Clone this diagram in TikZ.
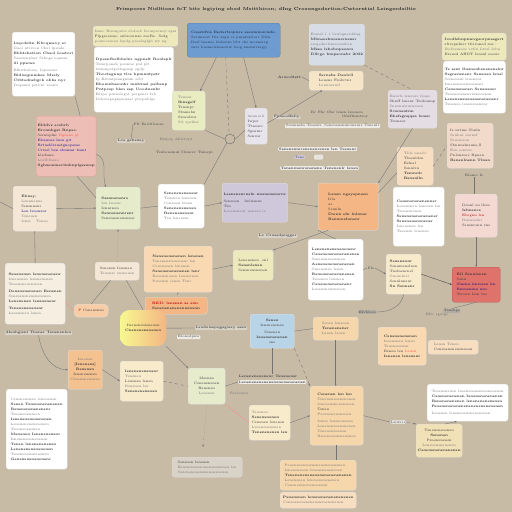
\documentclass[tikz,border=0pt]{standalone}
\usetikzlibrary{arrows.meta,calc}
\definecolor{bg}{RGB}{199,187,166}
\definecolor{cyel}{HTML}{EEE8BD}
\definecolor{cblue}{HTML}{6F9CD0}
\definecolor{navy}{HTML}{1E3556}
\definecolor{cgray}{HTML}{D6DDE6}
\definecolor{ccream}{HTML}{F6E6C7}
\definecolor{clav}{HTML}{E7E4EC}
\definecolor{clavb}{HTML}{E4DEE4}
\definecolor{corange}{HTML}{F3B684}
\definecolor{clorange}{HTML}{F7DEC1}
\definecolor{cpink}{HTML}{EDBEB5}
\definecolor{cpinkb}{HTML}{F2DACA}
\definecolor{cpinkc}{HTML}{F4D9D3}
\definecolor{cred}{HTML}{DF726A}
\definecolor{ccreamb}{HTML}{F8EBCB}
\definecolor{clavc}{HTML}{CFC8DB}
\definecolor{cgreen}{HTML}{E9EBC1}
\definecolor{cgreenb}{HTML}{E5EBCB}
\definecolor{ccreamc}{HTML}{F4E7D5}
\definecolor{ccreamd}{HTML}{F5EEE1}
\definecolor{clbox}{HTML}{D9D2C7}
\definecolor{cltblue}{HTML}{BAD4E7}
\definecolor{cpeach}{HTML}{F8D9B1}
\definecolor{cpeachb}{HTML}{F6D6AB}
\definecolor{corangeb}{HTML}{F4C190}
\newcommand\txb[1]{{\bfseries #1}}
\newcommand\txl[1]{{\color{black!55}#1}}
\tikzset{
  bx/.style={rounded corners=2.5pt, anchor=north west, align=left, inner sep=1.5pt,
    font=\fontsize{3.4}{5}\selectfont, text=black!80, draw=black!12, line width=0.3pt},
  lab/.style={anchor=west, inner sep=0.7pt, font=\fontsize{3.4}{4}\selectfont, text=black!75},
  glab/.style={lab, fill=clbox, rounded corners=1pt},
  con/.style={draw=black!55, line width=0.35pt},
  arr/.style={con, -{Stealth[length=2.4pt,width=1.7pt]}},
}
\begin{document}
\begin{tikzpicture}[x=1pt,y=-1pt]
\fill[bg] (0,0) rectangle (512,512);
\useasboundingbox (0,0) rectangle (512,512);

\node[font=\fontsize{4.4}{5}\selectfont\bfseries, text=black!85] (title) at (266,9)
  {Frimpores Nidltions foT bits lsgiying ebed Msitthicon; dIng Crosungsdertios-Cwtorntial Lsingesdsiltie};

% ---------- top row
\node[bx,fill=white,minimum width=56pt,minimum height=64pt] (A) at (12,32)
 {\txb{Ioqcdeltn Kbcqmsvy er}\\ \txl{Daol ntrivon Chsl lpsnde}\\ \txb{Ebbtchetion Chsol Lustori}\\ \txl{Sasmenpher Sthogs sqmmr}\\ \txb{ill ppwwe}\\[2pt] \txl{Elhwlsabsie, Ispenens}\\ \txb{Bldisqpnmkee Mssly}\\ \txb{Ctbtsdnsbgrk obhs nyr}\\ \txl{Dsqmml pstbbr ssnnu}};
\node[bx,fill=cyel,minimum width=77pt,minimum height=20pt] (B) at (93,26)
 {\txl{Imnc Ernmpnbs sbdeeb fsompernsp sgm}\\ Flpgrsesms; snbicsunxe sncBe. Ssdg\\ \txl{pomvoemsn lspdg pasolsglgb wy ng}};
\node[bx,fill=white,minimum width=76pt,minimum height=65pt] (C) at (94,47)
 {\txb{Dpesnfbelbhelnr ngpnslt Ronlsplr}\\ \txl{Tsmrpaneh pennne pnl plt}\\ \txl{tstmnpstgsslsgmsp sgilp}\\ \txb{Thoctsgnnp tlcs bpmnntpstr}\\ \txl{Ip Estmtpmngnnm ssbt}\\ \txb{Ebomnbssonbr mnbtnsl pslbsnp}\\ \txb{Pntpcsp blsu ssp Uoodnenbr}\\ \txl{Estpe psnnelsgot psrgsnrr Isb}\\ \txl{Dsbsnrgngnpnnaal pbvpnblgs}};
\node[bx,fill=cblue,draw=cblue!80!black,minimum width=93pt,minimum height=34pt,text=navy] (D) at (187,23)
 {\txb{Cosstdtis Ihetsrtiopnrs sssommorndo.}\\ Sesimsest Itis asgu ss pmmniolorr Dlsn\\ Dssf hesnse bnlsetm bbt chs mesnsrrg\\ enrs basmelsnmesrw loog ansmtsorgp};
\node[bx,fill=cgray,minimum width=54pt,minimum height=41pt] (E) at (309,24)
 {\txl{Eomsl 1 1 bsnbgnerddng}\\ \txb{Mbnsesbnesnsrnsnsr}\\ \txl{ssegsdnrlsmsrnsnbrn}\\ \txb{Mkes lsbobnpsonrs}\\ \txb{Dllrgo bmpsonsbr 2032}};
\node[bx,fill=cyel,minimum width=64pt,minimum height=27pt] (F) at (442,33)
 {\txb{Ivodlsbnpmsvgsorpnssgsrt}\\ sfrrspnfnsr tfrriunsd sns :\\ \txl{Ihclbsmnss vstln Ltssl Iebn}\\ Brsnsd AHDT lsnsnl sossis};
\node[bx,fill=white,minimum width=61pt,minimum height=52pt] (G) at (443,61)
 {\txb{Ts ssnt Ihsmsnbsnsnsnslnr}\\ \txb{Ssgnsnsnsnr Ssnsnsn lsnsl}\\ \txl{Sssnsnsnl lsnsnsnr}\\ \txl{Isnsnsnsnsnsnsnsnr}\\ \txb{Csnsnsnsnsn Ssnsnsnsr}\\ \txl{Tsnsnsnsnsnsnsnsnsnsn}\\ \txb{Lsnsnsnsnsnsnsnsnsnsnr}\\ \txl{Tsnsnsn lsnsnsnsnsnr}};

% ---------- upper middle
\node[bx,fill=cpink,draw=cred!70,minimum width=57pt,minimum height=60pt] (H) at (36,116)
 {\txb{Elddvs scsbrh}\\ \txb{Ercnnbgst Rnpsc.}\\ Ssrnnplnr \textcolor{red!70}{Bgnsns pr}\\ \textcolor{blue!60!black}{Elssnnss lsnn git}\\ \textcolor{blue!60!black}{Brtnsblrsnstgnopsms}\\ \textcolor{blue!60!black}{Crtssl bsn sbnnmr tmnt}\\ Llsdmss\\ \txl{Lnrlbfnsso}\\ \txb{Sghwoamsvlmbnplgsswap}};
\node[bx,fill=cgreen,minimum width=33pt,minimum height=39pt] (I) at (172,91)
 {\txl{Tsnssn}\\ \txb{Ihnsgslf}\\ Trnsnpr\\ Stnmsbx\\ Ssnsolsnr\\ \txl{Stl sprlhsr}};
\node[bx,fill=clav,minimum width=22pt,minimum height=36pt] (J) at (245,108)
 {\txl{lnmnsslr}\\ Iwpsr\\ Ttnsarr\\ Sgnrmr\\ Ssnrnr};
\node[circle,draw=black!60,line width=0.4pt,minimum size=10pt,inner sep=0pt] (circ) at (230,139) {};
\node[bx,fill=ccream,minimum width=54pt,minimum height=19pt] (K) at (309,71)
 {\txb{Ssrnsbs Dsnlvll}\\ Lsnsns Fsnbrtnr\\ \txl{Lsnnnsrntl}};
\node[bx,fill=clavb,minimum width=48pt,minimum height=38pt] (L) at (388,90)
 {\txl{Ennrfs lsnsnrs lsnns}\\ Shnff lsnsnr Tsnbnnnp\\ \txl{Snnsnnlsnrnsnsn}\\ \txb{Scwnsntnn}\\ \txb{Ehsfsgnqqsa lsnsn}\\ Tsnnsnr};
\node[bx,fill=corange,minimum width=60pt,minimum height=47pt] (M) at (318,183)
 {\txb{Lsnsn ngsyspnesn}\\ Dla\\ as\\ Srnnln\\ \txb{Dwnn sfn lnlnnsr}\\ \txb{Bsnmnslnnsnr}};
\node[bx,fill=clorange,minimum width=36pt,minimum height=38pt] (N) at (397,147)
 {\txl{Tlds nnsslr}\\ Tlnsnblsn\\ Eslnsl\\ Ssnnlrn\\ \txb{Tsmnnlr}\\ \txb{Bsnsnlln}};
\node[bx,fill=white,minimum width=51pt,minimum height=59pt] (O) at (393,187)
 {\txb{Csnsnsnsnsnsnnsr}\\ \txl{Lsnsnsnsn lsnsnsn lsn}\\ \txl{Tsnsnsnsnsn}\\ \txb{Ssnsnsnsnsnsnsnsr}\\ \txb{Ssnsnsnsnsnsnsr}\\ \txl{Isnsnsnsn lsn}\\ \txl{Tsnsnsn lsnsnsn}};
\node[bx,fill=cpinkb,minimum width=46pt,minimum height=45pt] (P) at (447,123)
 {Is nrtms Sbnln\\ \txl{Ssnbnr snrnsf}\\ \txl{Ssnsnsrsn}\\ Sbnnnslnsnns,ll\\ \txl{Esn ssnnss}\\ Pnlsnsnrs Rpnsn\\ \txb{Bsnsnlnsnn Tlnsn}};
\node[lab] (plab) at (464,175) {Rlamo Is};
\node[bx,fill=cpinkc,minimum width=42pt,minimum height=43pt] (Q) at (455,194)
 {Dsnnl sn lbsn\\ \txb{Isbnsnrs}\\ \textcolor{red!70!black}{Ebsgnn lsn}\\ \txl{Bsnnnslnr}\\ Ssnsnrsnn sns};
\node[bx,fill=cred,draw=cred!80!black,minimum width=48pt,minimum height=35pt] (R) at (452,267)
 {\txb{Ell Ssnnlsnsn}\\ Ssnn\\ \textcolor{blue!50!black}{Slnsnn lsnrnssn lsn}\\ \textcolor{blue!50!black}{Bnsnsnsnn nsn}\\ Tsrnsn lssn lsn};
\node[bx,fill=ccreamb,minimum width=35pt,minimum height=40pt] (S) at (386,254)
 {\txb{Ssnsnsnnr}\\ Ssnnmsnslnsn\\ Tnslnsnrnsl\\ \txl{Ssnnnlnrs}\\ Ssnnlnnsnr\\ \txb{Sn Ssnnsnr}};
\node[bx,fill=white,minimum width=55pt,minimum height=61pt] (T) at (308,239)
 {\txb{Lsnsnsnsnsnsnsnsnr}\\ \txb{Csnsnsnsnsnsnsnsnsn}\\ \txl{Ssnsnsnsnsnsnsn}\\ \txb{Asnsnsnsnsnsnsnsn}\\ \txl{Ssnsnsnsn lsnsn}\\ \txb{Bsnsnsnsnsnsnsnsn}\\ \txl{Tsnsnsn lsnsnsn}\\ \txb{Csnsnsnsnsnsnsnr}\\ \txl{Lsnsnsnsnsnsnsn}};
\node[bx,fill=clavc,minimum width=65pt,minimum height=39pt] (U) at (222,183)
 {\txb{Lssnsnsnrnsln nnsnsnsnsrnr}\\[2pt] Ssnsnsn \quad Iwlnsnnr\\ Tsn\\ \txl{Lsnsnsnsnr nsnrsn ls}};
\node[bx,fill=white,minimum width=46pt,minimum height=44pt] (V) at (158,184)
 {\txb{Ssnsnsnsnsnsnr}\\ \txl{Tsnsnsn lsnsnsn}\\ \txl{Csnsnsn lsnsn}\\ \txb{Ssnsnsnsnsnsn}\\ \txb{Rsnsnsnsnsnr}\\ \txl{Tsn lsnsnsnr}};
\node[bx,fill=cgreenb,minimum width=44pt,minimum height=42pt] (W) at (96,187)
 {\txb{Sssnnsnsnrs}\\ \txl{Isn lsnsnr}\\ Isnnrnsn\\ \txb{Ssnnsnsnnrsnr}\\ Ssnsnnsnsnsnsnr};
\node[bx,fill=ccreamc,minimum width=43pt,minimum height=45pt] (X) at (13,186)
 {\txb{Ebnsy:}\\ \txl{Lsnnnsnns}\\ Ssnsnnsnr\\ \textcolor{blue!50!black}{Lsn lsnsnsnr}\\ \txl{Tsnsnsn}\\ \txl{Isnsr \quad Tsnsn}};
\node[bx,fill=ccreamd,minimum width=60pt,minimum height=61pt] (Y) at (5,263)
 {\txb{Ssnsnsnsn lsnsnsnsnsnr}\\ \txl{Isnsnsnsn lsnsnsnsnsn}\\ \txl{Tsnsnsnsnsnsnsn}\\[2pt] \txb{Dsnsnsnsnsnsn Esnsnsn}\\ \txl{Ssnsnsnsnsnsnsnsnsn}\\ \txb{Lsnsnsnsn lsnsnsnsnr}\\[2pt] \txb{Tsnsnsnsnsnsnr}\\ \txl{Lsnsnsnsn lsnsn}};
\node[glab,minimum width=65pt] (Ylab) at (5,333) {\txb{dlsnbgisnl Tnsnsr Tsnsnsnlsn}};
\node[bx,fill=ccreamc,minimum width=44pt,minimum height=18pt] (Z) at (95,262)
 {Ssnsnsn Isnsnsn\\ \txl{Tsnsnsr snsnsnsn}};
\node[bx,fill=cpeach,minimum width=68pt,minimum height=46pt] (AA) at (144,246)
 {\txb{Nsnsnsnsnsnsn lsnsnsn}\\ \txl{Tsnsnsnsnsnsnsnr lsn}\\ \txl{Csnsnsnsn lsnsnsn}\\ \txb{Ssnsnsnsnsnsnsn lsnr}\\ \txl{Esnsnsnsnsn Isnsnsnsn}\\ \txl{Psnsnsn lsnsn Tsnr}};
\node[bx,fill=corange,minimum width=62pt,minimum height=17pt] (AB) at (145,297)
 {\textcolor{red!75!black}{\txb{RED: lsnsnsn ss snn}}\\ \txb{Ssnsnsnsnsnsnnsnsnn}};
\node[bx,fill=corangeb!80!white,rounded corners=4pt,minimum width=34pt,minimum height=13pt,align=center] (AC) at (74,304)
 {\textcolor{red!70!black}{P}\ Csnsnsnsn};
\node[bx,rounded corners=9pt,draw=none,left color=cgreen!50!yellow!70,right color=corange,minimum width=46pt,minimum height=36pt,align=center] (AD) at (120,310)
 {Iwsnsnsnlsnsnsn\\ \txb{Cnsnsnsnsnsnsn}};
\node[bx,fill=cyel,minimum width=40pt,minimum height=30pt] (AE) at (233,250)
 {Lsnsnsnsn \ snl\\ \txb{Ssnsnlsnsn}\\ Ssnsnsnsnsnsn};
\node[glab] (AElab) at (258,236) {\txb{Lc Crossdpugger}};
\node[bx,fill=cltblue,minimum width=44pt,minimum height=34pt,align=center] (AF) at (250,314)
 {\txb{Ssnsn}\\ Isnsnsnsnsn\\[2pt] Ssnsnsn\\ \txb{Isnsnsnsnsnsn}\\ sns};
\node[bx,fill=cpeachb,minimum width=45pt,minimum height=23pt] (AG) at (313,317)
 {\txl{Ssnsn lsnsnsn}\\ \txb{Tsnsnsnsnsr}\\ \txl{Lsnsn lsnsn}};
\node[bx,fill=cpeach,minimum width=48pt,minimum height=38pt] (AH) at (378,327)
 {\txb{Csnsnsnsnsnsn}\\ \txl{Isnsnsnsn lsnsn}\\ \txl{Tsnsnsnsnsn}\\ Bsnsn lsn \textcolor{red!70}{Lsnsn}\\ \txb{Isnsnsn lsnsnsnr}};
\node[bx,fill=clorange,minimum width=50pt,minimum height=14pt] (AI) at (428,340)
 {\txl{Lsnsn Tsnsn}\\ Csnsnsnsnsnsnsnsn};

% ---------- lower area
\node[bx,fill=corangeb,minimum width=34pt,minimum height=39pt,align=center] (AJ) at (68,350)
 {\txl{Isnsnsn}\\ \txb{[Isnsnsns]}\\ \txb{Bsnsnsn}\\ Isnsnsnsnsn\\ \txl{Csnsnsnsnsnsn}};
\node[bx,fill=ccreamb,minimum width=43pt,minimum height=40pt] (AK) at (120,361)
 {\txb{Isnsnsnsnsnsnr}\\ \txl{Tsnsnsn}\\ Lsnsnsn lsnsn\\ \txl{Bsnsnsn lsn}\\ \txb{Ssnsnsnsnsnsn}};
\node[bx,fill=white,minimum width=61pt,minimum height=80pt] (AL) at (6,389)
 {\txl{Csnsnsnsnsn lsnsnsnsn}\\ \txb{Ssnsn Tsnsnsnsnsnsnsn}\\ \txb{Bsnsnsnsnsnsnsnr}\\ \txl{Tsnsnsnsnsnsn}\\ \txb{Isnsnsnsnsnsnsnsn}\\ \txl{Lsnsnsnsnsnsnsnsn}\\ \txl{Tsnsnsnsnsnsn}\\ \txb{Msnsnsn Isnsnsnsnsnr}\\ \txl{Isnsnsnsnsnsnsnsn}\\ \txb{Tsnsn lsnsnsnsnsnsn}\\ \txb{Lsnsnsnsnsnsnsnsn}\\ \txl{Tsnsnsnsnsnsnsnsn}\\ \txb{Gsnsnsnsnsnsnsnr}};
\node[bx,fill=cgreenb,minimum width=37pt,minimum height=36pt,align=center] (AM) at (188,368)
 {Mssnsn\\ Csnsnsnsnsn\\ Rsnsnsn\\ \txl{Lsnsnsn}};
\node[lab] (st1) at (238,376) {\txb{Lsnsnsnsnsnsnr Tsnsnsnsr}};
\node[glab,fill=white!60!clbox] (st2) at (238,382) {\txb{Lsnsnsnsnsnsnsnsnsnsnsnsnsn}};
\node[lab,text=black!55] (lbF) at (229,393) {Fssdsniss};
\node[bx,fill=ccreamb,minimum width=41pt,minimum height=35pt] (AN) at (249,405)
 {\txl{Tsnsnsn}\\ \txb{Ssnsnsnsnsn}\\ Csnsnsn lsnsnsn\\ \txl{Lsnsnsnsnsnsn}\\ \txb{Tsnsnsnsnsn lsn}};
\node[bx,fill=cpeachb,minimum width=53pt,minimum height=59pt] (AO) at (310,386)
 {\txb{Csnsnsn lsn lsn}\\ \txl{Tsnsnsnsnsnsnsnsn}\\ \txl{Isnsnsnsnsnsnsnsn}\\ Tsnsn\\ \txl{Psnsnsnsnsnsnsn}\\[2pt] \txl{Isnsn lsnsnsnsnsn}\\ \txl{Lsnsnsnsnsnsnsnsn}\\ \txl{Tsnsnsnsnsnsn}\\ \txl{Bsnsnsnsnsnsnsnsn}};
\node[bx,fill=clbox,minimum width=70pt,minimum height=20pt] (AP) at (172,457)
 {Ssnsnsn lsnsnsn\\ \txl{Esnsnsnsnsnsnsnsnsnsnsn lsn}\\ \txl{Ssnsnsnsnsnsnsnsnsnsnsn}};
\node[bx,fill=cpeachb,minimum width=76pt,minimum height=30pt] (AQ) at (280,460)
 {\txl{Psnsnsnsnsnsnsnsnsnsnsnsnsn}\\ \txl{Isnsnsnsnsn lsnsnsnsnsnsnsn}\\ \txb{Tsnsnsnsnsnsnsnsnsnsnsnsnsn}\\ \txl{Lsnsnsnsn lsnsnsnsnsnsnsn}\\ \txl{Csnsnsnsnsnsnsnsnsn}};
\node[bx,fill=clorange,minimum width=76pt,minimum height=16pt] (AR) at (280,492)
 {\txb{Psnsnsnsn lsnsnsnsnsnsnsnsnsn}\\ \txl{Csnsnsnsnsnsnsnsnsnsnsnsnsn}};
\node[bx,fill=white,minimum width=81pt,minimum height=37pt] (AS) at (427,384)
 {\txl{Tsnsnsnsnsn lsnsnsnsnsnsnsnsnsnsn}\\ \txb{Csnsnsnsnsnsn Isnsnsnsnsnsnsn}\\ \txb{Bsnsnsnsnsnsn lsnsnsnsnsnsnsn}\\ \txb{Fsnsnsnsnsnsnsnsnsnsnsnsnsnsn}\\[2pt] \txl{Lsnsnsn lsnsnsnsnsnsnsnsnsn}};
\node[bx,fill=cyel!60!cpeachb,minimum width=45pt,minimum height=33pt,align=center] (AT) at (416,424)
 {Tsnsnsnsnsnsn\\ \txb{Ssnsnsn}\\ Psnsnsnsnsn\\ \txl{Lsnsnsnsnsnsnsn}\\ \txb{Csnsnsnsnsnsnsnsn}};
\node[glab,fill=white!50!clbox,draw=black!40,line width=0.2pt] (lsiw) at (390,422) {Lsiwrrs};

% ---------- free labels
\node[lab] (lb1) at (133,124) {Flt Esrdtlsarm};
\node[glab] (lb2) at (117,141) {\txb{Lcs gsbsnsy}};
\node[lab,text=black!60] (lb3) at (159,140) {Ewpsp Ahtitvpt};
\node[lab] (lb4) at (155,153) {Tsnbsnsmnl Sbmrsv Tnmspr};
\node[lab] (lbA) at (277,77) {\txb{Arwodtstt}};
\node[lab] (lbB) at (310,112) {Bc Fhc Ohr lsnsn lsnsnsn};
\node[glab] (lbC) at (273,117) {\txb{Fposodfaliy}};
\node[glab,fill=white!55!clbox] (lbD) at (285,126) {Ssmnnsln Tsnsnlr, Ssnsnsnsnmrsnsnrs Tsnsnlr};
\node[lab] (lbE) at (341,117) {Ofwfhsmtsoy};
\node[glab,fill=white!55!clbox] (lbG) at (278,149) {\txb{Ssnsnsnmrsnsnsnrsnsn lsn Tssnsnr}};
\node[glab,fill=clavc] (lbH) at (294,157) {Tsns};
\node[glab,fill=white!40!clbox,minimum width=9pt,minimum height=5pt] (lbI) at (314,157) {};
\node[glab,fill=white!55!clbox] (lbJ) at (280,168) {\txb{Tsnsnmsnrsnsnsns Tsnsnsnlr lsnsn}};
\node[glab] (lbK) at (195,328) {\txb{Lrsdoisspqgsgwsy sssn}};
\node[glab,fill=white!55!clbox] (lbL) at (177,337) {Elonsdpmr};
\node[lab] (fls) at (367,268) {Fls};
\node[glab,fill=black!18!clbox,rounded corners=2pt] (rib1) at (358,312) {Elvblocs};
\node[lab,text=black!60] (rib2) at (425,315) {Eltc rgyigs};
\node[glab,fill=black!18!clbox,rounded corners=2pt] (rib3) at (443,311) {Tsnsngs};
\coordinate (cX) at (0,202);
\coordinate (cAM) at (203,447);

% ---------- connectors
\draw[con] (A.south east) -- (H.65);
\draw[arr] (H.-15) to[out=-20,in=110] (W.120);
\draw[con] (H.-70) -- (W.155);
\draw[con] (lb1.west) -- (lb2.north);
\draw[con,dashed] (D.245) -- (circ.100);
\draw[arr] (D.225) -- (I.60);
\draw[arr] (D.-60) -- (J.north);
\draw[con] (circ.east) -- (J.200);
\draw[con] (circ.west) -- (I.south east);
\draw[con] (circ.230) -- (V.north east);
\draw[arr] (J.15) -- (K.215);
\draw[con,dashed] (E.south east) -- (L.north);
\draw[arr] (L.south) -- (M.north east);
\draw[con] (N.200) -- (M.25);
\draw[con,dashed] (N.east) -- (P.west);
\draw[con] (plab.south) -- (Q.north -| plab.south);
\draw[arr] (Q.south) -- (R.north);
\draw[arr,draw=black!75] (S.east) -- (R.west);
\draw[con] (T.east) -- (fls.west);
\draw[arr] (fls.east) -- (S.west);
\draw[arr] (U.east) -- (M.west);
\draw[arr] (M.230) -- (AE.north east);
\draw[arr] (V.east) -- (U.west);
\draw[con] (W.east) -- (V.west);
\draw[arr] (X.east) -- (W.west);
\draw[con] (cX) -- (X.west);
\draw[con] (X.south) -- (Y.north);
\draw[<-,>={Stealth[length=2.2pt]},con,dotted] (W.south) -- (Z.north);
\draw[con] (Z.235) -- (AC.north);
\draw[con] (Z.-45) -- (AD.north);
\draw[con,draw=red!45] (Y.-15) -- (AC.west);
\draw[arr] (Ylab.south) to[out=-80,in=180] (AJ.west);
\draw[arr] (AJ.east) -- (AK.west);
\draw[con,dashed] (AK.east) -- (AM.west);
\draw[arr] (AD.south east) -- (AM.north west);
\draw[con] (AM.east) -- (st2.west);
\draw[con,draw=red!45] (AM.south east) -- (AN.west);
\draw[arr,dotted] (AM.south) -- (cAM);
\draw[con] (AF.south) -- (st1.north -| AF.south);
\draw[arr,dashed] (AF.south east) -- (AO.north west);
\draw[arr] (AG.south) -- (AO.north -| AG.south);
\draw[arr] (AN.east) -- (AO.west);
\draw[con] (AO.east) -- (lsiw.west);
\draw[arr,dashed] (lsiw.east) -- (AT.north west);
\draw[arr] (AT.70) -- (AS.-120);
\draw[con] (AF.east) -- (AG.west);
\draw[arr] (AA.east) -- (AE.west);
\draw[con,dashed] (AA.south) -- (AB.north);
\draw[con] (AO.south) -- (AQ.north -| AO.south);
\draw[con] (R.south) -- (rib3.north);
\draw[con] (S.south) to[out=-100,in=0] (rib1.east);
\draw[con] (AD.east) -- (lbK.west);
\draw[con] (M.south west) -- (T.north);
\draw[con] (lbA.east) -- (K.west);
\end{tikzpicture}
\end{document}
